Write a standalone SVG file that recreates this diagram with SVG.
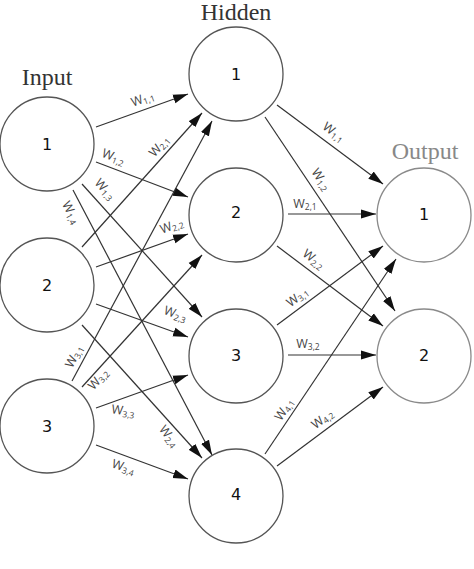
<svg xmlns="http://www.w3.org/2000/svg" width="474" height="569" viewBox="0 0 474 569">
<style>
.node{fill:#fff;stroke:#555;stroke-width:1.3}
.out{fill:#fff;stroke:#8a8a8a;stroke-width:1.3}
.num{font-family:"DejaVu Sans",sans-serif;font-size:16px;fill:#111;text-anchor:middle}
.title{font-family:"Liberation Serif","DejaVu Serif",serif;font-size:24px;fill:#333;text-anchor:middle}
.edge{stroke:#333;stroke-width:1.2;fill:none;marker-end:url(#arr)}
.w{font-family:"Open Sans","DejaVu Sans",sans-serif;font-size:12.5px;fill:#444;text-anchor:middle}
.s{font-size:8.5px}
</style>
<defs>
<marker id="arr" markerUnits="userSpaceOnUse" markerWidth="16" markerHeight="10" refX="15" refY="5" orient="auto">
<path d="M0,0.5 L15,5 L0,9.5 z" fill="#111"/>
</marker>
</defs>
<rect width="474" height="569" fill="#fff"/>
<text class="title" x="47" y="85">Input</text>
<text class="title" x="236" y="20">Hidden</text>
<text class="title" x="425" y="159" style="fill:#888">Output</text>
<g id="connectors">
<line class="edge" x1="96" y1="127" x2="188" y2="94"/>
<line class="edge" x1="96" y1="162" x2="188" y2="197"/>
<line class="edge" x1="82" y1="184" x2="202" y2="317"/>
<line class="edge" x1="73" y1="190" x2="212" y2="455"/>
<line class="edge" x1="82" y1="247" x2="202" y2="113"/>
<line class="edge" x1="96" y1="267" x2="188" y2="234"/>
<line class="edge" x1="96" y1="304" x2="188" y2="337"/>
<line class="edge" x1="82" y1="325" x2="202" y2="458"/>
<line class="edge" x1="72" y1="381" x2="212" y2="121"/>
<line class="edge" x1="82" y1="387" x2="202" y2="255"/>
<line class="edge" x1="96" y1="408" x2="188" y2="375"/>
<line class="edge" x1="96" y1="445" x2="188" y2="479"/>
<line class="edge" x1="277" y1="105" x2="383" y2="184"/>
<line class="edge" x1="265" y1="117" x2="395" y2="311"/>
<line class="edge" x1="288" y1="214" x2="376" y2="214"/>
<line class="edge" x1="277" y1="246" x2="383" y2="326"/>
<line class="edge" x1="277" y1="325" x2="383" y2="246"/>
<line class="edge" x1="288" y1="355" x2="376" y2="355"/>
<line class="edge" x1="265" y1="454" x2="396" y2="259"/>
<line class="edge" x1="277" y1="466" x2="383" y2="387"/>
<g id="weights">
<text class="w" transform="translate(143,100) rotate(-20)" y="3">W<tspan class="s" dy="2">1,1</tspan></text>
<text class="w" transform="translate(160,147) rotate(-48)" y="3">W<tspan class="s" dy="2">2,1</tspan></text>
<text class="w" transform="translate(113,158) rotate(21)" y="3">W<tspan class="s" dy="2">1,2</tspan></text>
<text class="w" transform="translate(104,190) rotate(48)" y="3">W<tspan class="s" dy="2">1,3</tspan></text>
<text class="w" transform="translate(70,213) rotate(62)" y="3">W<tspan class="s" dy="2">1,4</tspan></text>
<text class="w" transform="translate(172,227) rotate(-20)" y="3">W<tspan class="s" dy="2">2,2</tspan></text>
<text class="w" transform="translate(175,315) rotate(20)" y="3">W<tspan class="s" dy="2">2,3</tspan></text>
<text class="w" transform="translate(75,357) rotate(-62)" y="3">W<tspan class="s" dy="2">3,1</tspan></text>
<text class="w" transform="translate(99,380) rotate(-48)" y="3">W<tspan class="s" dy="2">3,2</tspan></text>
<text class="w" transform="translate(123,412) rotate(8)" y="3">W<tspan class="s" dy="2">3,3</tspan></text>
<text class="w" transform="translate(123,468) rotate(18)" y="3">W<tspan class="s" dy="2">3,4</tspan></text>
<text class="w" transform="translate(168,437) rotate(52)" y="3">W<tspan class="s" dy="2">2,4</tspan></text>
<text class="w" transform="translate(333,133) rotate(37)" y="3">W<tspan class="s" dy="2">1,1</tspan></text>
<text class="w" transform="translate(320,180) rotate(56)" y="3">W<tspan class="s" dy="2">1,2</tspan></text>
<text class="w" transform="translate(305,205)" y="3">W<tspan class="s" dy="2">2,1</tspan></text>
<text class="w" transform="translate(313,260) rotate(37)" y="3">W<tspan class="s" dy="2">2,2</tspan></text>
<text class="w" transform="translate(298,298) rotate(-37)" y="3">W<tspan class="s" dy="2">3,1</tspan></text>
<text class="w" transform="translate(308,345)" y="3">W<tspan class="s" dy="2">3,2</tspan></text>
<text class="w" transform="translate(285,410) rotate(-56)" y="3">W<tspan class="s" dy="2">4,1</tspan></text>
<text class="w" transform="translate(323,420) rotate(-37)" y="3">W<tspan class="s" dy="2">4,2</tspan></text>
</g>
</g>
<g id="input1"><circle class="node" cx="47" cy="144" r="47"/><text class="num" x="47" y="150">1</text></g>
<g id="input2"><circle class="node" cx="47" cy="285" r="47"/><text class="num" x="47" y="291">2</text></g>
<g id="input3"><circle class="node" cx="47" cy="426" r="47"/><text class="num" x="47" y="432">3</text></g>
<g id="hidden1"><circle class="node" cx="236" cy="74" r="47"/><text class="num" x="236" y="80">1</text></g>
<g id="hidden2"><circle class="node" cx="236" cy="215" r="47"/><text class="num" x="236" y="218">2</text></g>
<g id="hidden3"><circle class="node" cx="236" cy="356" r="47"/><text class="num" x="236" y="361">3</text></g>
<g id="hidden4"><circle class="node" cx="236" cy="496" r="47"/><text class="num" x="236" y="500">4</text></g>
<g id="output1"><circle class="out" cx="424" cy="215" r="47"/><text class="num" x="424" y="220">1</text></g>
<g id="output2"><circle class="out" cx="424" cy="356" r="47"/><text class="num" x="424" y="361">2</text></g>
</svg>
